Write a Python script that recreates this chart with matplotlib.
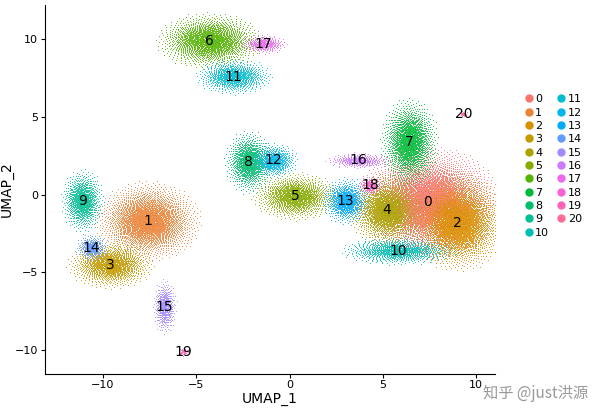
import numpy as np
import matplotlib.pyplot as plt
from matplotlib.lines import Line2D

plt.rcParams['font.family'] = ['DejaVu Sans', 'Noto Sans CJK SC']

clusters = list(range(21))
cx = [7.4, -7.6, 9.0, -9.6, 5.2, 0.3, -4.3, 6.4, -2.2, -11.1, 5.8,
      -3.0, -0.85, 3.0, -10.6, -6.7, 3.7, -1.4, 4.3, -5.7, 9.3]
cy = [-0.5, -1.7, -1.8, -4.5, -1.0, -0.1, 9.9, 3.4, 2.1, -0.4, -3.6,
      7.6, 2.2, -0.4, -3.4, -7.2, 2.2, 9.7, 0.6, -10.1, 5.2]
sx = [1.5, 1.1, 1.0, 0.9, 0.8, 0.9, 1.1, 0.6, 0.5, 0.45, 1.2,
      0.8, 0.5, 0.5, 0.35, 0.25, 0.7, 0.5, 0.25, 0.12, 0.08]
sy = [1.4, 1.0, 1.2, 0.6, 0.9, 0.6, 0.7, 1.1, 0.8, 0.8, 0.35,
      0.45, 0.45, 0.6, 0.35, 0.7, 0.2, 0.25, 0.25, 0.12, 0.08]
label_x = cx
label_y = cy


def hue_pal(n, l=65, c=100):
    # ggplot2 default hue palette (HCL -> sRGB)
    hues = np.linspace(15, 375, n + 1)[:-1]
    out = []
    un, vn = 0.1978, 0.4683
    for h in hues:
        u = c * np.cos(np.radians(h))
        v = c * np.sin(np.radians(h))
        Y = ((l + 16) / 116) ** 3
        up = u / (13 * l) + un
        vp = v / (13 * l) + vn
        X = Y * 9 * up / (4 * vp)
        Z = Y * (12 - 3 * up - 20 * vp) / (4 * vp)
        r = 3.2406 * X - 1.5372 * Y - 0.4986 * Z
        g = -0.9689 * X + 1.8758 * Y + 0.0415 * Z
        b = 0.0557 * X - 0.2040 * Y + 1.0570 * Z
        rgb = []
        for ch in (r, g, b):
            ch = 12.92 * ch if ch <= 0.0031308 else 1.055 * ch ** (1 / 2.4) - 0.055
            rgb.append(min(max(ch, 0), 1))
        out.append(tuple(rgb))
    return out


colors = hue_pal(21)

fig = plt.figure(figsize=(6, 4.15), dpi=100)
ax = fig.add_axes([0.075, 0.1, 0.75, 0.888])

golden = np.pi * (3 - np.sqrt(5))
for k in clusters:
    n = max(30, int(2600 * sx[k] * sy[k]))
    i = np.arange(n)
    u = (i + 0.5) / n
    # gaussian-like radial falloff so blobs fade at the edges
    r = np.sqrt(-2 * np.log(1 - u * 0.97))
    t = i * golden
    px = cx[k] + sx[k] * r * np.cos(t)
    py = cy[k] + sy[k] * r * np.sin(t)
    ax.scatter(px, py, s=0.4, color=colors[k], linewidths=0)

for k in clusters:
    ax.text(label_x[k], label_y[k], str(k), fontsize=10, ha='center', va='center')

ax.set_xlim(-13.1, 11.0)
ax.set_ylim(-11.5, 12.2)
ax.set_xticks([-10, -5, 0, 5, 10])
ax.set_yticks([-10, -5, 0, 5, 10])
ax.spines['top'].set_visible(False)
ax.spines['right'].set_visible(False)
ax.set_xlabel('UMAP_1', fontsize=10, labelpad=1)
ax.set_ylabel('UMAP_2', fontsize=10, labelpad=1)
ax.tick_params(labelsize=8, length=3, pad=2)

handles = [Line2D([], [], marker='o', ls='', color=colors[k], markersize=5,
                  label=str(k)) for k in clusters]
fig.legend(handles=handles, ncol=2, loc='center left', bbox_to_anchor=(0.855, 0.6),
           frameon=False, fontsize=8, handletextpad=0.1, columnspacing=0.6,
           labelspacing=0.3, handlelength=1.0)

fig.text(0.98, 0.04, '知乎 @just洪源', ha='right', fontsize=11, color='#999999',
         family=['Noto Sans CJK SC', 'DejaVu Sans'])

fig.savefig('out.png')
